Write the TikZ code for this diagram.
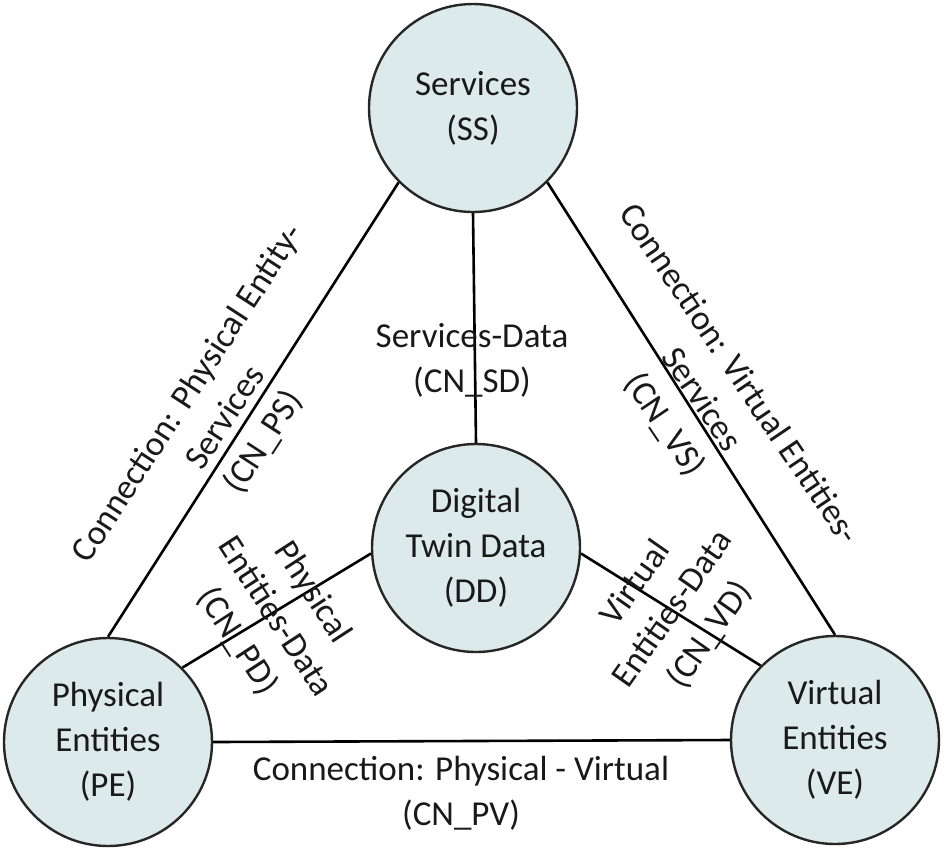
\documentclass[tikz,border=0pt]{standalone}
\usepackage{fontspec}
\setmainfont{Carlito}
\definecolor{circfill}{RGB}{221,234,235}
\definecolor{txt}{RGB}{25,25,25}
\newcommand\lblfont{\fontsize{35}{45}\selectfont}
\begin{document}
\begin{tikzpicture}[x=1pt,y=-1pt,
  ent/.style={circle, draw=black!85, line width=2.4pt, fill=circfill, minimum size=208pt, inner sep=0pt, align=center, font=\lblfont, text=txt},
  conn/.style={line width=2.6pt, black},
  lab/.style={align=center, font=\lblfont, text=txt, inner sep=0pt}]
\useasboundingbox (0,0) rectangle (944,855);
\node[ent] (SS) at (473,108) {Services\\(SS)};
\node[ent] (DD) at (476,548) {Digital\\Twin Data\\(DD)};
\node[ent] (PE) at (108,742) {Physical\\Entities\\(PE)};
\node[ent] (VE) at (835,740) {Virtual\\Entities\\(VE)};
\draw[conn] (SS.south) -- (DD.north);
\draw[conn] (PE.north) -- (SS.south west);
\draw[conn] (SS.south east) -- (VE.north);
\draw[conn] (PE.north east) -- (DD.183);
\draw[conn] (DD.-3) -- (VE.north west);
\draw[conn] (PE.east) -- (VE.west);
\node[lab, rotate=57] (lPS) at (226,418) {Connection: Physical Entity-\\Services\\(CN\_PS)};
\node[lab, rotate=-56] (lVS) at (701,400) {Connection: Virtual Entities-\\Services\\(CN\_VS)};
\node[lab, rotate=-57] (lPD) at (275,617) {Physical\\Entities-Data\\(CN\_PD)};
\node[lab, rotate=55] (lVD) at (673,609) {Virtual\\Entities-Data\\(CN\_VD)};
\node[lab] (lSD) at (472,360) {Services-Data\\(CN\_SD)};
\node[lab] (lPV) at (461,793) {Connection: Physical - Virtual\\(CN\_PV)};
\end{tikzpicture}
\end{document}
